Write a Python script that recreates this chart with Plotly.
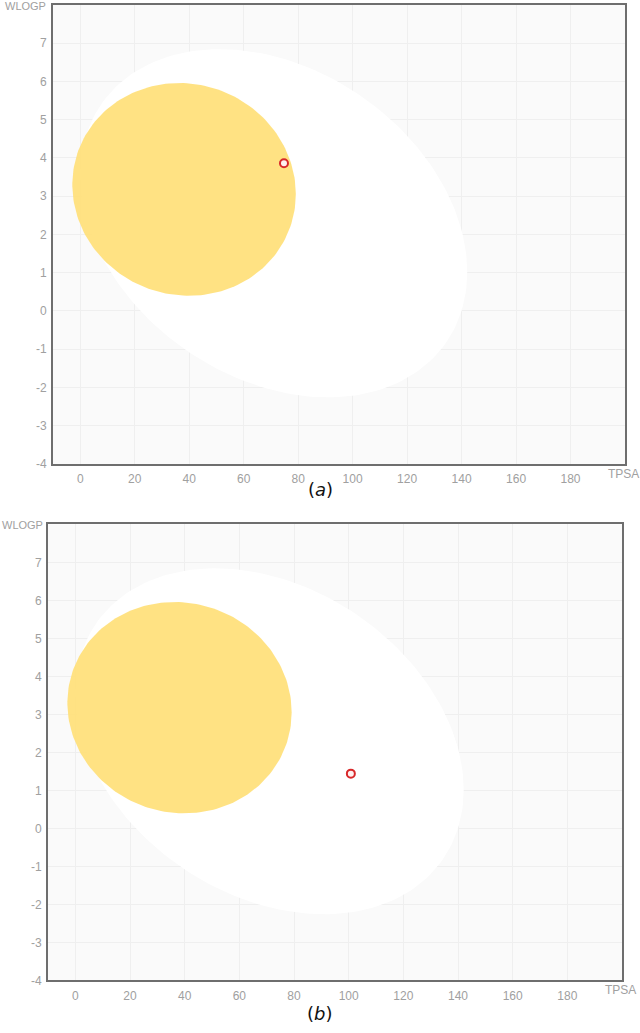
import numpy as np
import plotly.graph_objects as go

# BOILED-Egg regions (centre TPSA, centre WLOGP, full width, full height, angle deg)
white_ellipse = [71.051, 2.292, 142.081, 8.740, -1.031325]
yolk_ellipse = [38.117, 3.177, 82.061, 5.557, -0.171887]

# molecules: (a) and (b)
panels = ["a", "b"]
tpsa = [74.8, 100.8]
wlogp = [3.86, 1.44]

x_ticks = [0, 20, 40, 60, 80, 100, 120, 140, 160, 180]
y_ticks = [-4, -3, -2, -1, 0, 1, 2, 3, 4, 5, 6, 7]
y_ticktext = ["-4", "-3", "-2", "-1", "0", "1", "2", "3", "4", "5", "6", "7"]


def ellipse_xy(cx, cy, w, h, ang, n=200):
    t = np.linspace(0, 2 * np.pi, n)
    a, b = w / 2, h / 2
    th = np.deg2rad(ang)
    x = cx + a * np.cos(t) * np.cos(th) - b * np.sin(t) * np.sin(th)
    y = cy + a * np.cos(t) * np.sin(th) + b * np.sin(t) * np.cos(th)
    return x, y


fig = go.Figure()

W, H = 640, 1033
# pixel boxes of the two plot areas: (left, right, top, bottom)
boxes = [(53, 625, 5, 467), (48, 622, 528, 987)]
wlogp_left = [3, 0]

for i, p in enumerate(panels):
    xa = "x" if i == 0 else "x2"
    ya = "y" if i == 0 else "y2"
    wx, wy = ellipse_xy(*white_ellipse)
    fig.add_trace(go.Scatter(x=wx, y=wy, mode="lines", fill="toself",
                             fillcolor="#ffffff", line=dict(width=0, color="#ffffff"),
                             hoverinfo="skip", showlegend=False, xaxis=xa, yaxis=ya))
    yx, yy = ellipse_xy(*yolk_ellipse)
    fig.add_trace(go.Scatter(x=yx, y=yy, mode="lines", fill="toself",
                             fillcolor="rgba(255,223,118,0.9)", line=dict(width=0, color="rgba(0,0,0,0)"),
                             hoverinfo="skip", showlegend=False, xaxis=xa, yaxis=ya))
    fig.add_trace(go.Scatter(x=[tpsa[i]], y=[wlogp[i]], mode="markers",
                             marker=dict(size=8, color="#fff0f0", line=dict(width=2, color="#d8282a")),
                             showlegend=False, xaxis=xa, yaxis=ya))

font_fam = "Liberation Sans"
axis_common = dict(
    showline=True, mirror=True, linecolor="#6e6e6e", linewidth=2,
    showgrid=True, gridcolor="#efefef", gridwidth=1, zeroline=False,
    tickfont=dict(family=font_fam, size=12, color="#a0a0a0"),
    ticks="",
)

layout_axes = {}
for i, (l, r, t, b) in enumerate(boxes):
    sfx = "" if i == 0 else "2"
    layout_axes["xaxis" + sfx] = dict(axis_common, range=[-10, 200], tickvals=x_ticks,
                                      domain=[l / W, r / W],
                                      anchor="y" + sfx, ticklabelstandoff=3)
    layout_axes["yaxis" + sfx] = dict(axis_common, range=[-4, 8], tickvals=y_ticks,
                                      ticktext=y_ticktext,
                                      domain=[1 - b / H, 1 - t / H],
                                      anchor="x" + sfx, ticklabelstandoff=2)

annotations = []
lab_font = dict(family=font_fam, size=12, color="#a0a0a0")
for i, (l, r, t, b) in enumerate(boxes):
    annotations.append(dict(x=wlogp_left[i] / W, y=1 - (t + 1) / H, xref="paper", yref="paper",
                            text="WLOGP", showarrow=False, xanchor="left", yanchor="middle",
                            font=dict(lab_font, size=11)))
    annotations.append(dict(x=(r - 2) / W, y=1 - (b + 10) / H, xref="paper", yref="paper",
                            text="TPSA", showarrow=False, xanchor="center", yanchor="middle",
                            font=lab_font))
    annotations.append(dict(x=320 / W, y=1 - (b + 26) / H if i == 0 else 1 - (b + 33) / H,
                            xref="paper", yref="paper",
                            text="(<i>" + panels[i] + "</i>)", showarrow=False,
                            xanchor="center", yanchor="middle",
                            font=dict(family="DejaVu Sans", size=18, color="#111111")))

fig.update_layout(
    width=W, height=H,
    margin=dict(l=0, r=0, t=0, b=0),
    paper_bgcolor="white",
    plot_bgcolor="#fafafa",
    annotations=annotations,
    **layout_axes,
)

fig.write_html("out.html", config={"displayModeBar": False},
               post_script="document.body.style.margin='0';")
